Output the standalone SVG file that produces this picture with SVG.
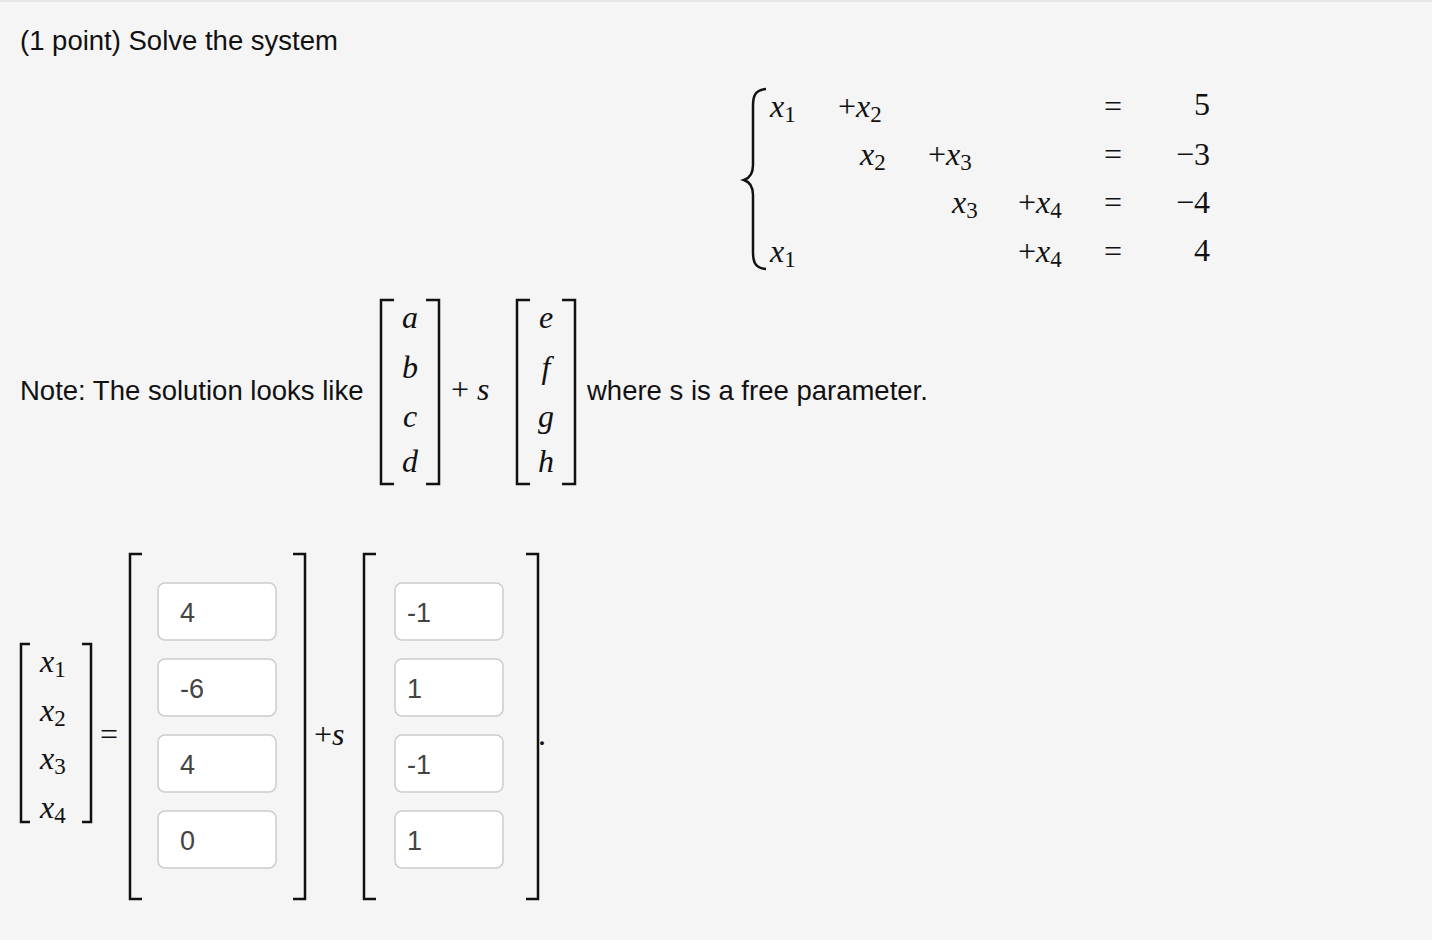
<svg xmlns="http://www.w3.org/2000/svg" width="1432" height="940" viewBox="0 0 1432 940">
<style>
.s{font-family:"Liberation Sans",Arial,sans-serif;font-size:27.5px;fill:#111}
.m{font-family:"Liberation Serif","Times New Roman",serif;font-size:32px;fill:#111}
.i{font-style:italic}
.sub{font-size:23px;font-style:normal}
.br{fill:none;stroke:#111;stroke-width:2.5}
.box{fill:#fff;stroke:#ccc;stroke-width:1.5}
.v{font-family:"Liberation Sans",Arial,sans-serif;font-size:27px;fill:#444}
</style>
<rect width="1432" height="940" fill="#f5f5f5"/>
<line x1="0" y1="1" x2="1432" y2="1" stroke="#e6e6e6" stroke-width="2"/>
<text class="s" x="20" y="50">(1 point) Solve the system</text>
<path d="M766,89 C755,90 753,96 753,106 L753,165 C753,174 750,178 744,180 C750,182 753,186 753,195 L753,252 C753,262 755,268 766,269" fill="none" stroke="#111" stroke-width="2.5"/>
<g class="m">
<text x="770" y="117"><tspan class="i">x</tspan><tspan class="sub" dy="5">1</tspan></text>
<text x="838" y="117">+<tspan class="i">x</tspan><tspan class="sub" dy="5">2</tspan></text>
<text x="860" y="165"><tspan class="i">x</tspan><tspan class="sub" dy="5">2</tspan></text>
<text x="928" y="165">+<tspan class="i">x</tspan><tspan class="sub" dy="5">3</tspan></text>
<text x="952" y="213"><tspan class="i">x</tspan><tspan class="sub" dy="5">3</tspan></text>
<text x="1018" y="213">+<tspan class="i">x</tspan><tspan class="sub" dy="5">4</tspan></text>
<text x="770" y="262"><tspan class="i">x</tspan><tspan class="sub" dy="5">1</tspan></text>
<text x="1018" y="262">+<tspan class="i">x</tspan><tspan class="sub" dy="5">4</tspan></text>
<text x="1104" y="117">=</text><text x="1104" y="165">=</text><text x="1104" y="213">=</text><text x="1104" y="262">=</text>
<text x="1210" y="115" text-anchor="end">5</text>
<text x="1210" y="165" text-anchor="end">−3</text>
<text x="1210" y="213" text-anchor="end">−4</text>
<text x="1210" y="261" text-anchor="end">4</text>
</g>
<text class="s" x="20" y="400">Note: The solution looks like</text>
<path class="br" d="M394,300 H381 V484 H394 M426,300 H439 V484 H426"/>
<g class="m i" text-anchor="middle">
<text x="410" y="328">a</text><text x="410" y="378">b</text><text x="410" y="427">c</text><text x="410" y="472">d</text>
<text x="546" y="328">e</text><text x="546" y="378">f</text><text x="546" y="427">g</text><text x="546" y="472">h</text>
</g>
<text class="m" x="451" y="400">+ <tspan class="i">s</tspan></text>
<path class="br" d="M530,300 H517 V484 H530 M562,300 H575 V484 H562"/>
<text class="s" x="587" y="400">where s is a free parameter.</text>
<path class="br" d="M30,644 H21 V822 H30 M82,644 H91 V822 H82"/>
<g class="m">
<text x="40" y="672"><tspan class="i">x</tspan><tspan class="sub" dy="5">1</tspan></text>
<text x="40" y="721"><tspan class="i">x</tspan><tspan class="sub" dy="5">2</tspan></text>
<text x="40" y="769"><tspan class="i">x</tspan><tspan class="sub" dy="5">3</tspan></text>
<text x="40" y="818"><tspan class="i">x</tspan><tspan class="sub" dy="5">4</tspan></text>
<text x="100" y="745">=</text>
<text x="314" y="745">+<tspan class="i">s</tspan></text>
<text x="538" y="745">.</text>
</g>
<path class="br" d="M142,554 H130 V899 H142 M293,554 H305 V899 H293"/>
<path class="br" d="M376,554 H364 V899 H376 M526,554 H538 V899 H526"/>
<g id="col1">
<rect class="box" x="158" y="583" width="118" height="57" rx="7"/>
<rect class="box" x="158" y="659" width="118" height="57" rx="7"/>
<rect class="box" x="158" y="735" width="118" height="57" rx="7"/>
<rect class="box" x="158" y="811" width="118" height="57" rx="7"/>
<text class="v" x="180" y="622">4</text>
<text class="v" x="180" y="698">-6</text>
<text class="v" x="180" y="774">4</text>
<text class="v" x="180" y="850">0</text>
</g>
<g id="col2">
<rect class="box" x="395" y="583" width="108" height="57" rx="7"/>
<rect class="box" x="395" y="659" width="108" height="57" rx="7"/>
<rect class="box" x="395" y="735" width="108" height="57" rx="7"/>
<rect class="box" x="395" y="811" width="108" height="57" rx="7"/>
<text class="v" x="407" y="622">-1</text>
<text class="v" x="407" y="698">1</text>
<text class="v" x="407" y="774">-1</text>
<text class="v" x="407" y="850">1</text>
</g>
</svg>
